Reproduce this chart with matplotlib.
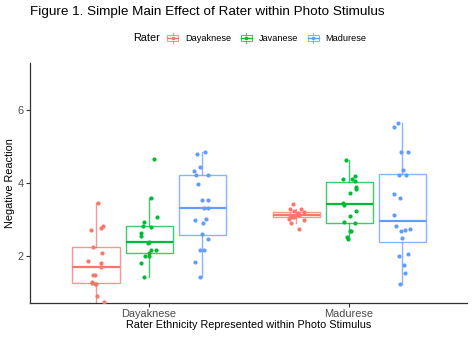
import numpy as np
import matplotlib
matplotlib.use("Agg")
import matplotlib.pyplot as plt
from matplotlib.patches import Rectangle
from matplotlib.lines import Line2D
from matplotlib.legend_handler import HandlerBase

# ---------------- data ----------------
stimuli = ["Dayaknese", "Madurese"]
raters = ["Dayaknese", "Javanese", "Madurese"]
colors = ["#F8766D", "#00BA38", "#619CFF"]

# Photo stimulus: Dayaknese
dayak_by_dayak = [3.45, 2.83, 2.78, 2.73, 2.26, 2.10, 1.86, 1.82, 1.71, 1.50,
                  1.48, 1.29, 1.26, 1.24, 1.23, 0.92, 0.74]
dayak_by_java = [4.67, 3.60, 3.07, 2.94, 2.83, 2.80, 2.64, 2.54, 2.40, 2.37,
                 2.18, 2.16, 2.09, 2.02, 2.02, 1.81, 1.42]
dayak_by_madu = [4.85, 4.80, 4.45, 4.32, 4.21, 4.21, 3.98, 3.54, 3.54, 3.32,
                 3.32, 3.02, 3.00, 2.90, 2.61, 2.48, 2.17, 2.16, 1.84, 1.43]
# Photo stimulus: Madurese
madu_by_dayak = [3.44, 3.30, 3.28, 3.25, 3.21, 3.18, 3.16, 3.15, 3.14, 3.12,
                 3.10, 3.08, 3.06, 3.03, 3.00, 2.92, 2.74]
madu_by_java = [4.63, 4.20, 4.12, 4.10, 4.06, 3.89, 3.83, 3.74, 3.45, 3.39,
                3.25, 3.09, 2.93, 2.90, 2.70, 2.69, 2.52, 2.48]
madu_by_madu = [5.63, 5.52, 4.84, 4.84, 4.35, 4.23, 4.23, 3.71, 3.60, 3.12,
                2.82, 2.75, 2.71, 2.69, 2.51, 2.05, 2.01, 1.77, 1.53, 1.24]

groups = [
    [dayak_by_dayak, dayak_by_java, dayak_by_madu],
    [madu_by_dayak, madu_by_java, madu_by_madu],
]

y_ticks = [2, 4, 6]
title = "Figure 1. Simple Main Effect of Rater within Photo Stimulus"
x_label = "Rater Ethnicity Represented within Photo Stimulus"
y_label = "Negative Reaction"

# ---------------- figure ----------------
plt.rcParams["font.family"] = ["Liberation Sans", "DejaVu Sans"]
W, H = 474, 338
fig = plt.figure(figsize=(W / 100, H / 100), dpi=100)
ax = fig.add_axes([30 / W, 1 - 302.7 / H, 437 / W, 240 / H])

dodge = 0.265
box_w = 0.235
rng = np.random.default_rng(7)

for si, stim_groups in enumerate(groups):
    for ri, vals in enumerate(stim_groups):
        pos = si + 1 + (ri - 1) * dodge
        c = colors[ri]
        ax.boxplot(
            [vals], positions=[pos], widths=box_w, whis=1.5,
            showfliers=False, showcaps=False, patch_artist=True,
            boxprops=dict(facecolor="none", edgecolor=c, linewidth=1.0, alpha=0.75),
            whiskerprops=dict(color=c, linewidth=1.0, alpha=0.75),
            medianprops=dict(color=c, linewidth=1.6),
            manage_ticks=False, zorder=2,
        )
        jit = rng.uniform(-0.042, 0.042, len(vals))
        ax.scatter(pos + jit, vals, s=9, color=c, linewidths=0, zorder=3)

ax.set_xlim(0.405, 2.59)
ax.set_ylim(0.73, 7.29)
ax.set_xticks([1, 2])
ax.set_xticklabels(stimuli)
ax.set_yticks(y_ticks)
ax.set_yticklabels([str(t) for t in y_ticks])

for s in ["top", "right"]:
    ax.spines[s].set_visible(False)
for s in ["left", "bottom"]:
    ax.spines[s].set_color("#333333")
    ax.spines[s].set_linewidth(0.9)
ax.tick_params(axis="both", length=3, width=0.8, color="#333333",
               labelsize=7.9, labelcolor="#4D4D4D", pad=1.5)

ax.set_xlabel(x_label, fontsize=7.8, labelpad=1)
ax.set_ylabel(y_label, fontsize=7.8, labelpad=2)

fig.text(30 / W, 1 - 12 / H, title, fontsize=9.7, ha="left", va="center")


# ---------------- legend ----------------
class BoxKeyHandler(HandlerBase):
    def create_artists(self, legend, orig_handle, xdescent, ydescent,
                       width, height, fontsize, trans):
        c = orig_handle.get_color()
        x0, y0 = -xdescent, -ydescent
        arts = []
        rect = Rectangle((x0 + 0.1 * width, y0 + 0.25 * height),
                         0.8 * width, 0.5 * height, facecolor="none",
                         edgecolor=c, linewidth=0.8, alpha=0.75, transform=trans)
        arts.append(rect)
        cx = x0 + 0.5 * width
        arts.append(Line2D([cx, cx], [y0, y0 + 0.25 * height], color=c, lw=0.8,
                           alpha=0.75, transform=trans))
        arts.append(Line2D([cx, cx], [y0 + 0.75 * height, y0 + height], color=c,
                           lw=0.8, alpha=0.75, transform=trans))
        arts.append(Line2D([x0 + 0.1 * width, x0 + 0.9 * width],
                           [y0 + 0.5 * height] * 2, color=c, lw=1.0,
                           transform=trans))
        arts.append(Line2D([cx], [y0 + 0.5 * height], marker="o", markersize=2.6,
                           color=c, markeredgewidth=0, linestyle="none",
                           transform=trans))
        return arts


handles = [Line2D([], [], color=c) for c in colors]
leg = fig.legend(handles, raters, loc="center", ncol=3, frameon=False,
                 bbox_to_anchor=(266 / W, 1 - 38 / H),
                 handler_map={Line2D: BoxKeyHandler()},
                 fontsize=6.6, handlelength=1.5, handleheight=1.4,
                 handletextpad=0.6, columnspacing=0.9)
fig.text(133 / W, 1 - 38 / H, "Rater", fontsize=7.8, ha="left", va="center")

fig.savefig("out.png", dpi=100)
